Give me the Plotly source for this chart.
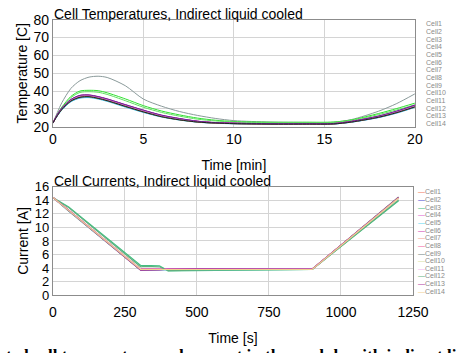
import plotly.graph_objects as go

W, H = 474, 353

# ---------------- data ----------------
cells = ["Cell%d" % i for i in range(1, 15)]
colors = ["#f07860", "#4848d0", "#40c080", "#e060d0", "#60d8f0", "#d040b0", "#f0a090",
          "#f060a0", "#708080", "#d8e0a0", "#f0b0f0", "#60b080", "#b030a0", "#f0d090"]
temp_colors = ["#e05050", "#3030c0", "#30e030", "#d040d0", "#40c0e0", "#c03090", "#e08070",
               "#e04080", "#8a9a9a", "#a0a040", "#d080d0", "#60e060", "#7020a0", "#202020"]

t_min = [0, 0.25, 0.5, 1, 1.5, 2, 2.5, 3, 4, 5, 6, 7, 8, 9, 10, 12, 14, 15.5, 16.5, 18, 19, 20]
temps = [
    [22.0, 26.5, 30.0, 34.8, 37.0, 37.2, 36.3, 35.0, 31.8, 28.7, 26.0, 24.2, 22.8, 22.1, 21.8, 21.5, 21.5, 21.6, 22.8, 25.6, 28.2, 31.5],
    [22.0, 26.2, 29.6, 34.2, 36.3, 36.6, 35.8, 34.5, 31.3, 28.2, 25.6, 23.9, 22.6, 22.0, 21.7, 21.4, 21.4, 21.5, 22.6, 25.2, 27.8, 31.0],
    [22.0, 27.0, 31.0, 37.0, 40.0, 40.4, 40.2, 39.0, 35.6, 31.8, 28.8, 26.6, 24.8, 23.6, 22.9, 22.5, 22.5, 22.6, 23.8, 27.4, 30.2, 33.2],
    [22.0, 26.6, 30.2, 35.0, 37.3, 37.5, 36.6, 35.3, 32.1, 29.0, 26.3, 24.4, 23.0, 22.2, 21.9, 21.6, 21.6, 21.7, 22.9, 25.8, 28.5, 31.8],
    [22.0, 26.0, 29.4, 34.0, 36.0, 36.3, 35.5, 34.2, 31.0, 28.0, 25.4, 23.7, 22.5, 21.9, 21.6, 21.4, 21.4, 21.5, 22.5, 25.1, 27.6, 30.8],
    [22.0, 26.8, 30.4, 35.2, 37.5, 37.7, 36.8, 35.5, 32.3, 29.2, 26.4, 24.5, 23.0, 22.2, 21.9, 21.6, 21.6, 21.7, 23.0, 25.9, 28.6, 32.0],
    [22.0, 26.4, 29.9, 34.6, 36.8, 37.0, 36.1, 34.8, 31.6, 28.5, 25.8, 24.0, 22.7, 22.0, 21.7, 21.5, 21.5, 21.6, 22.7, 25.4, 28.0, 31.2],
    [22.0, 26.7, 30.3, 35.1, 37.4, 37.6, 36.7, 35.4, 32.2, 29.1, 26.3, 24.4, 23.0, 22.2, 21.9, 21.6, 21.6, 21.7, 22.9, 25.8, 28.4, 31.7],
    [22.0, 28.0, 33.5, 41.5, 45.8, 47.8, 48.3, 47.6, 43.0, 35.5, 31.5, 28.5, 26.3, 24.6, 23.4, 22.6, 22.4, 22.5, 24.0, 28.7, 33.0, 38.4],
    [22.0, 26.3, 29.8, 34.5, 36.6, 36.9, 36.0, 34.7, 31.5, 28.4, 25.7, 23.9, 22.6, 22.0, 21.7, 21.5, 21.5, 21.6, 22.7, 25.5, 28.1, 31.3],
    [22.0, 26.5, 30.1, 34.9, 37.1, 37.3, 36.4, 35.1, 31.9, 28.8, 26.1, 24.3, 22.9, 22.1, 21.8, 21.5, 21.5, 21.6, 22.8, 25.7, 28.3, 31.6],
    [22.0, 26.8, 30.6, 36.3, 39.2, 39.6, 39.3, 38.1, 34.6, 30.9, 28.0, 25.9, 24.2, 23.2, 22.6, 22.3, 22.3, 22.4, 23.5, 26.8, 29.4, 32.3],
    [22.0, 26.9, 30.5, 35.3, 37.6, 37.8, 36.9, 35.6, 32.4, 29.3, 26.5, 24.6, 23.1, 22.3, 22.0, 21.7, 21.7, 21.8, 23.0, 26.0, 28.8, 32.1],
    [22.0, 26.2, 29.7, 34.4, 36.5, 36.8, 35.9, 34.6, 31.4, 28.3, 25.6, 23.8, 22.6, 22.0, 21.7, 21.4, 21.4, 21.5, 22.6, 25.3, 27.9, 31.1],
]

t_s = [0, 55, 305, 320, 370, 400, 500, 900, 1200]
currents = [
    [14.4, 12.5, 3.80, 3.80, 3.85, 3.85, 3.85, 3.85, 14.35],
    [14.4, 12.5, 3.75, 3.75, 3.80, 3.80, 3.80, 3.80, 14.30],
    [14.4, 13.0, 4.40, 4.40, 4.35, 3.60, 3.65, 3.80, 13.90],
    [14.4, 12.5, 3.80, 3.80, 3.85, 3.90, 3.90, 3.85, 14.35],
    [14.4, 12.4, 3.75, 3.75, 3.75, 3.80, 3.80, 3.80, 14.30],
    [14.4, 12.5, 3.85, 3.85, 3.90, 3.90, 3.85, 3.85, 14.35],
    [14.4, 12.5, 3.80, 3.80, 3.80, 3.85, 3.85, 3.85, 14.30],
    [14.4, 12.5, 3.85, 3.85, 3.90, 3.90, 3.90, 3.85, 14.35],
    [14.4, 12.4, 3.70, 3.70, 3.75, 3.80, 3.85, 3.85, 14.45],
    [14.4, 12.5, 3.80, 3.80, 3.80, 3.80, 3.80, 3.80, 14.25],
    [14.4, 12.5, 3.80, 3.80, 3.85, 3.85, 3.85, 3.85, 14.30],
    [14.35, 12.9, 4.20, 4.25, 4.20, 3.65, 3.70, 3.82, 14.00],
    [14.4, 12.5, 3.70, 3.70, 3.75, 3.85, 3.90, 3.85, 14.40],
    [14.4, 12.5, 3.80, 3.80, 3.80, 3.80, 3.80, 3.80, 14.30],
]

top_title = "Cell Temperatures, Indirect liquid cooled"
bot_title = "Cell Currents, Indirect liquid cooled"
caption = "ted cell temperature and current in the module with indirect liquid cooling"

# ---------------- figure ----------------
fig = go.Figure()
draw_order = [8, 2, 11, 0, 1, 3, 4, 5, 6, 7, 9, 10, 12, 13]
for i in draw_order:
    fig.add_trace(go.Scatter(x=t_min, y=temps[i], mode="lines", name=cells[i],
                             line=dict(color=temp_colors[i], width=1, shape="spline", smoothing=0.8),
                             xaxis="x", yaxis="y", showlegend=False))
for i in range(14):
    fig.add_trace(go.Scatter(x=t_s, y=currents[i], mode="lines", name=cells[i],
                             line=dict(color=colors[i], width=1.2),
                             xaxis="x2", yaxis="y2", showlegend=False))

def px_x(p):
    return p / W

def px_y(p):
    return 1 - p / H

axis_common = dict(showline=True, mirror=True, linecolor="#8c8c8c", linewidth=1,
                   gridcolor="#d4d4d4", zeroline=False, ticks="")
tf14 = dict(family="Arial", size=14, color="black")
tf13 = dict(family="Arial", size=13, color="black")

fig.update_layout(
    width=W, height=H, margin=dict(l=0, r=0, t=0, b=0),
    paper_bgcolor="white", plot_bgcolor="white", showlegend=False,
    xaxis=dict(domain=[px_x(51), px_x(429)], range=[0, 20], dtick=5, anchor="y", tickfont=tf14,
               title=dict(text="Time [min]", font=tf14, standoff=13), **axis_common),
    yaxis=dict(domain=[px_y(124.3), px_y(12.3)], range=[20, 80], dtick=10, anchor="x", tickfont=tf14,
               title=dict(text="Temperature [C]", font=tf14, standoff=2), **axis_common),
    xaxis2=dict(domain=[px_x(51), px_x(427)], range=[0, 1250], dtick=250, anchor="y2", tickfont=tf14,
                ticklabelstandoff=4,
                title=dict(text="Time [s]", font=tf14, standoff=14), **axis_common),
    yaxis2=dict(domain=[px_y(301), px_y(187)], range=[0, 16], dtick=2, anchor="x2", tickfont=tf13,
                title=dict(text="Current [A]", font=tf14, standoff=2), **axis_common),
)

ann = []
ann.append(dict(text=top_title, x=px_x(50), y=px_y(6), xref="paper", yref="paper",
                xanchor="left", yanchor="middle", showarrow=False, font=tf14))
ann.append(dict(text=bot_title, x=px_x(50), y=px_y(181), xref="paper", yref="paper",
                xanchor="left", yanchor="middle", showarrow=False, font=tf14))
for k, name in enumerate(cells):
    ann.append(dict(text=name, x=px_x(438), y=px_y(16.7 + 8.02 * k), xref="paper", yref="paper",
                    xanchor="left", yanchor="middle", showarrow=False,
                    font=dict(family="Arial", size=7, color="#8a8a8a")))
    ann.append(dict(text="<span style='color:%s'>—</span>%s" % (colors[k], name),
                    x=px_x(430), y=px_y(192.7 + 8.0 * k), xref="paper", yref="paper",
                    xanchor="left", yanchor="middle", showarrow=False,
                    font=dict(family="Arial", size=7, color="#8a8a8a")))
ann.append(dict(text="<b>" + caption + "</b>", x=0, y=px_y(341), xref="paper", yref="paper",
                xanchor="left", yanchor="top", yshift=-10, showarrow=False,
                font=dict(family="Liberation Serif", size=17, color="black")))
fig.update_layout(annotations=ann)

fig.write_html("out.html")
